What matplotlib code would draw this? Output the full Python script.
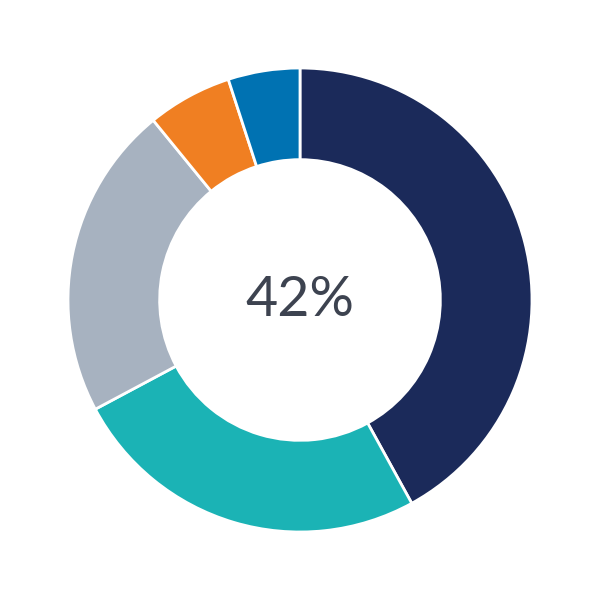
import matplotlib
matplotlib.use("Agg")
import matplotlib.pyplot as plt

labels = ["A", "B", "C", "D", "E"]
values = [42, 25.2, 21.9, 5.9, 5.0]
colors = ["#1b2a5a", "#1bb3b5", "#a7b2c0", "#f07f22", "#0072b2"]
center_text = "42%"

fig = plt.figure(figsize=(6, 6), dpi=100)
ax = fig.add_axes([0, 0, 1, 1])
ax.pie(values, colors=colors, startangle=90, counterclock=False,
       radius=1.0,
       wedgeprops=dict(width=0.395, edgecolor="white", linewidth=2))
r = 300 / 232
ax.set_xlim(-r, r)
ax.set_ylim(-r, r)
ax.set_aspect("equal")
ax.axis("off")
ax.text(0, 0, center_text, ha="center", va="center", fontsize=40,
        color="#3d4350", family="Lato")
fig.savefig("out.png", dpi=100)
